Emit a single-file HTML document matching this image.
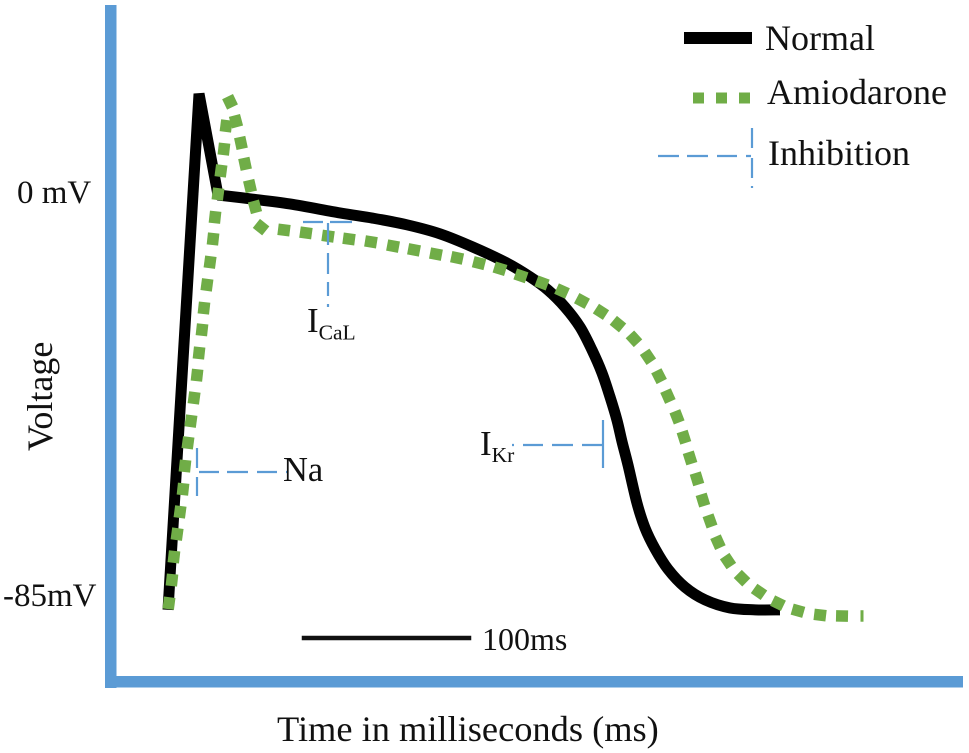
<!DOCTYPE html>
<html lang="en">
<head>
<meta charset="utf-8">
<title>Action potential: Normal vs Amiodarone</title>
<style>
html,body{margin:0;padding:0;background:#fff;}
svg{display:block;}
text{font-family:"Liberation Serif",serif;fill:#111;font-size:36px;}
.sub{font-size:21.5px;}
.inh{stroke:#5B9BD5;stroke-width:2.2;fill:none;}
</style>
</head>
<body>
<svg id="chart" width="969" height="753" viewBox="0 0 969 753" xmlns="http://www.w3.org/2000/svg">
  <rect x="105" y="5" width="11.5" height="683" fill="#5B9BD5"/>
  <rect x="105" y="676" width="858" height="11.5" fill="#5B9BD5"/>

  <text x="17" y="203" style="font-size:33px">0 mV</text>
  <text x="3" y="606" style="font-size:33px">-85mV</text>
  <text transform="translate(52,451) rotate(-90)">Voltage</text>
  <text x="277" y="741" style="font-size:36.4px">Time in milliseconds (ms)</text>

  <g id="series"></g>

  <g>
    <line class="inh" x1="303" y1="222" x2="352" y2="222" stroke-dasharray="20 7 22"/>
    <line class="inh" x1="328" y1="223" x2="328" y2="314" stroke-dasharray="22 8 21 8 14 8 3"/>
  </g>
  <text x="307" y="332" style="font-size:35px">I<tspan class="sub" dy="7.5">CaL</tspan></text>

  <g>
    <line class="inh" x1="512" y1="445" x2="602" y2="445" stroke-dasharray="2 9 20 9 21 9 20"/>
    <line class="inh" x1="603" y1="420" x2="603" y2="468"/>
  </g>
  <text x="480" y="455" style="font-size:35px">I<tspan class="sub" dy="7">Kr</tspan></text>

  <g>
    <line class="inh" x1="199" y1="472" x2="289" y2="472" stroke-dasharray="20 8 21 9 20 9 2"/>
    <line class="inh" x1="197" y1="448" x2="197" y2="496" stroke-dasharray="20 9 19"/>
  </g>
  <text x="283" y="481" style="font-size:34.5px">Na</text>

  <line id="scale-bar" y1="638" y2="638" stroke="#111" stroke-width="4.5" stroke-linecap="square"/>
  <text x="482" y="650" style="font-size:32px">100ms</text>

  <g>
    <line x1="684" y1="38" x2="752" y2="38" stroke="#000" stroke-width="12"/>
    <text x="765" y="50">Normal</text>
    <line x1="693" y1="98" x2="750" y2="98" stroke="#70AD47" stroke-width="11" stroke-dasharray="11 12"/>
    <text x="767" y="104">Amiodarone</text>
    <line class="inh" x1="658" y1="156" x2="751" y2="156" stroke-dasharray="21 8 21 9 20 9 5"/>
    <line class="inh" x1="752" y1="128" x2="752" y2="188" stroke-dasharray="20 10 20 8 2"/>
    <text x="768" y="165">Inhibition</text>
  </g>
</svg>
<script>
const normalTimes = [0, 18.8, 30.3, 49.7, 73.9, 104.2, 124.2, 144.8, 164.8, 184.8, 205.5, 219.4, 230.3, 240.6, 249.7, 257, 263, 267.9, 272.1, 275.2, 278.8, 284.2, 289.1, 295.2, 303, 313.3, 325.5, 340.6, 355.8, 370.9];
const normalVolts = [-87.7, 21.4, 0, -0.8, -1.9, -3.8, -4.9, -6.3, -8.2, -11, -14.4, -17.3, -20.1, -23.7, -27.9, -32.8, -37.6, -42.7, -47.6, -52.2, -57.1, -65.1, -70.4, -74.8, -79.1, -82.9, -85.6, -87.3, -87.7, -87.7];
const amioTimes = [0.6, 2.4, 3.6, 5.5, 7.3, 9.1, 10.3, 12.1, 13.9, 15.8, 17.6, 18.8, 20.6, 21.8, 23.6, 25.5, 27.3, 28.5, 30.3, 32.1, 33.9, 35.2, 37.6, 41.2, 44.2, 46.7, 49.7, 52.7, 56.4, 70.3, 83.6, 97, 109.7, 123, 136.4, 149.1, 162.4, 175.2, 188.5, 201.2, 213.9, 226.7, 238.8, 250.9, 262.4, 272.7, 282.4, 290.9, 297.6, 303, 308.5, 312.7, 316.4, 320.6, 324.2, 328.5, 333.3, 339.4, 347.9, 358.2, 369.7, 381.8, 395.2, 408.5, 420.6];
const amioVolts = [-86.3, -81.4, -76.5, -71.7, -67, -62.2, -57.3, -52.4, -47.8, -42.9, -38.1, -33.4, -28.5, -23.9, -19, -14.2, -9.3, -4.7, 0.2, 5.1, 9.7, 14.6, 19.7, 15.6, 11, 6.6, 1.9, -2.5, -6.8, -7.4, -8, -8.7, -9.3, -9.9, -10.8, -11.6, -12.5, -13.3, -14.4, -15.6, -17.1, -18.6, -20.3, -22.4, -24.7, -27.3, -30.4, -34.2, -38.3, -42.5, -46.9, -51.2, -55.6, -60, -64.5, -68.9, -73.4, -77.4, -81, -83.9, -86.3, -87.9, -88.8, -89, -89];
const scaleBarMs = [100];

function xScale(t) { return 168 + t * 1.65; }
function yScale(v) { return 195 - v * 4.73; }

function toPoints(ts, vs) {
  return ts.map(function (t, i) { return [xScale(t), yScale(vs[i])]; });
}

function smoothFrom(pts, k) {
  let d = 'M' + pts[0][0] + ' ' + pts[0][1];
  for (let i = 1; i < pts.length; i++) {
    if (i <= k) {
      d += 'L' + pts[i][0] + ' ' + pts[i][1];
    } else {
      const p0 = pts[Math.max(i - 2, k)];
      const p1 = pts[i - 1];
      const p2 = pts[i];
      const p3 = pts[Math.min(i + 1, pts.length - 1)];
      const c1x = p1[0] + (p2[0] - p0[0]) / 6;
      const c1y = p1[1] + (p2[1] - p0[1]) / 6;
      const c2x = p2[0] - (p3[0] - p1[0]) / 6;
      const c2y = p2[1] - (p3[1] - p1[1]) / 6;
      d += 'C' + c1x + ' ' + c1y + ' ' + c2x + ' ' + c2y + ' ' + p2[0] + ' ' + p2[1];
    }
  }
  return d;
}

const NS = 'http://www.w3.org/2000/svg';
const layer = document.getElementById('series');

const normalPath = document.createElementNS(NS, 'path');


normalPath.setAttribute('d', smoothFrom(toPoints(normalTimes, normalVolts), 2));
normalPath.setAttribute('fill', 'none');
normalPath.setAttribute('stroke', '#000');
normalPath.setAttribute('stroke-width', '11');
normalPath.setAttribute('stroke-linejoin', 'bevel');
layer.appendChild(normalPath);

const amioPts = toPoints(amioTimes, amioVolts);
amioPts.forEach(function (p, i) {
  const a = amioPts[Math.max(i - 1, 0)];
  const b = amioPts[Math.min(i + 1, amioPts.length - 1)];
  const dx = b[0] - a[0];
  const dy = b[1] - a[1];
  const len = Math.hypot(dx, dy) || 1;
  const half = i === amioPts.length - 1 ? 1.5 : 6;
  const ux = dx / len * half;
  const uy = dy / len * half;
  const dash = document.createElementNS(NS, 'line');
  
  
  dash.setAttribute('x1', p[0] - ux);
  dash.setAttribute('y1', p[1] - uy);
  dash.setAttribute('x2', p[0] + ux);
  dash.setAttribute('y2', p[1] + uy);
  dash.setAttribute('stroke', '#70AD47');
  dash.setAttribute('stroke-width', '11.5');
  layer.appendChild(dash);
});

const bar = document.getElementById('scale-bar');
bar.setAttribute('x1', xScale(0) + 136);
bar.setAttribute('x2', xScale(scaleBarMs[0]) + 136);
</script>
</body>
</html>
